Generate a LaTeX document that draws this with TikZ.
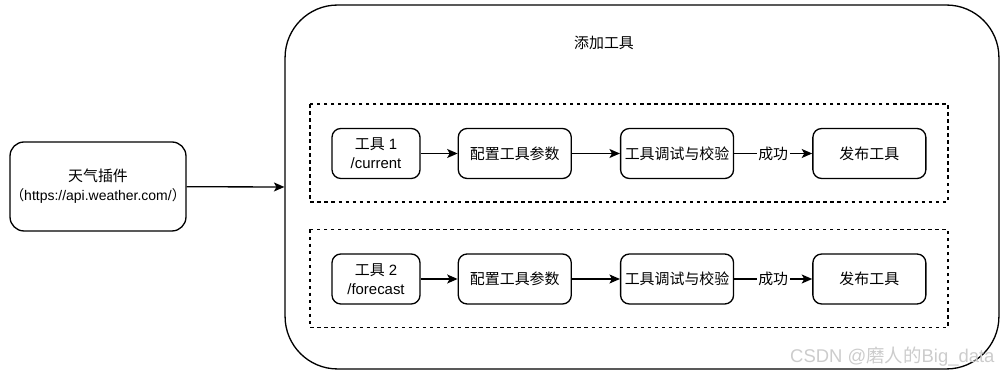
\documentclass[tikz,border=0pt]{standalone}
\usepackage{fontspec}
\setmainfont{Liberation Sans}
\newfontfamily\cjk{Noto Sans CJK SC}
\usetikzlibrary{arrows.meta,positioning}

\begin{document}
\begin{tikzpicture}[x=0.02cm, y=-0.02cm, line width=0.75pt,
    every node/.style={font=\fontsize{8.5}{11}\selectfont},
    stepbox/.style={draw, rounded corners=5pt, minimum width=2.26cm, minimum height=1cm, align=center, inner sep=1pt},
    group/.style={line width=0.6pt, dash pattern=on 2pt off 2pt},
    flow/.style={-{Stealth[length=2.1mm, width=1.8mm, inset=0.5mm]}}]
    \useasboundingbox (0,0) rectangle (1004,377);

    % plugin and the tool container
    \node[draw, rounded corners=8pt, minimum width=3.52cm, minimum height=1.78cm, inner xsep=0pt, align=center] (plugin) at (98,186.5)
        {{\cjk 天气插件}\\{\fontsize{7.95}{11}\selectfont{\cjk （}https://api.weather.com/{\cjk ）}}};
    \node[draw, rounded corners=1.05cm, minimum width=14.28cm, minimum height=7.28cm] (tools) at (642,187) {};
    \node (title) at (604,43) {\cjk 添加工具};
    \draw[flow] (plugin) -- (tools.west);

    % one row per tool
    \foreach \i/\y/\api in {1/153.5/current, 2/279/forecast} {
        \draw[group] (310,\y-49.5) rectangle (948,\y+48.5);
        \node[stepbox, minimum width=1.76cm] (t\i) at (376,\y) {{\cjk 工具} \i\\/\api};
        \node[stepbox, right=0.74cm of t\i] (p\i) {\cjk 配置工具参数};
        \node[stepbox, right=0.96cm of p\i] (d\i) {\cjk 工具调试与校验};
        \node[stepbox, right=1.56cm of d\i] (f\i) {\cjk 发布工具};
        \draw[flow] (t\i) -- (p\i);
        \draw[flow] (p\i) -- (d\i);
        \draw[flow] (d\i) -- node[fill=white, inner sep=1pt] {\cjk 成功} (f\i);
    }

    \node[text=gray!40, anchor=east, font=\fontsize{10.5}{12}\selectfont] (mark) at (1001,357) {CSDN @{\cjk 磨人的}Big\_data};
\end{tikzpicture}
\end{document}
